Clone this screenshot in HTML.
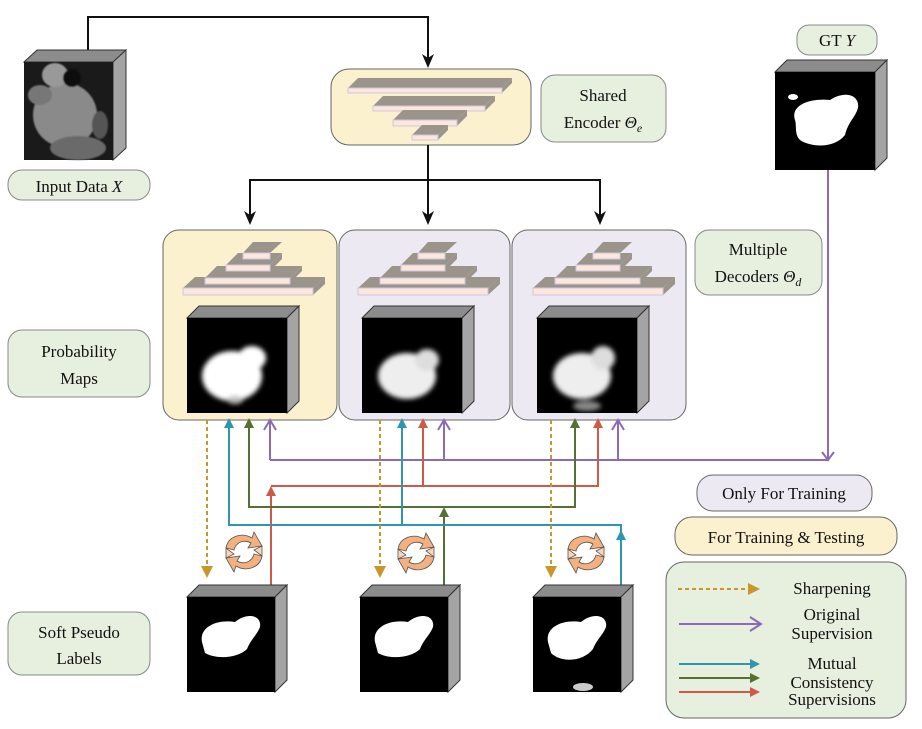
<!DOCTYPE html>
<html><head><meta charset="utf-8"><style>
html,body{margin:0;padding:0;background:#fff}
svg{display:block}
text{font-family:"Liberation Serif",serif;fill:#111}
</style></head><body>
<svg width="922" height="729" viewBox="0 0 922 729" xmlns="http://www.w3.org/2000/svg">
<defs>
<filter id="bl" x="-20%" y="-20%" width="140%" height="140%"><feGaussianBlur stdDeviation="2.5"/></filter>
<filter id="bl2"><feGaussianBlur stdDeviation="0.8"/></filter>
<g id="dec">
  <polygon points="183,288 195,277 325,277 313,288" fill="#9b948b"/><polygon points="313,288 325,277 325,284 313,295" fill="#9b948b"/>
  <rect x="183" y="288" width="130" height="7" fill="#fbe7dc" stroke="#cfc6e0" stroke-width="1"/>
  <polygon points="205,278 217,266 302,266 290,278" fill="#9b948b"/><polygon points="290,278 302,266 302,271 290,283" fill="#9b948b"/>
  <rect x="205" y="278" width="85" height="6" fill="#fbe7dc" stroke="#cfc6e0" stroke-width="1"/>
  <polygon points="226,265 238,253 282,253 270,265" fill="#9b948b"/><polygon points="270,265 282,253 282,259 270,271" fill="#9b948b"/>
  <rect x="226" y="265" width="44" height="6" fill="#fbe7dc" stroke="#cfc6e0" stroke-width="1"/>
  <polygon points="243,253 253,242 282,242 270,253" fill="#9b948b"/>
  <rect x="243" y="253" width="27" height="6" fill="#fbe7dc" stroke="#cfc6e0" stroke-width="1"/>
</g>
<g id="cubeP">
  <polygon points="0,0 12,-12 112,-12 100,0" fill="#8c8c8c" stroke="#333" stroke-width="1"/>
  <polygon points="100,0 112,-12 112,83 100,95" fill="#a4a4a4" stroke="#333" stroke-width="1"/>
  <rect x="0" y="0" width="100" height="95" fill="#000"/>
</g>
<g id="cubeS">
  <polygon points="0,0 12,-12 100,-12 88,0" fill="#8c8c8c" stroke="#333" stroke-width="1"/>
  <polygon points="88,0 100,-12 100,83 88,95" fill="#a4a4a4" stroke="#333" stroke-width="1"/>
  <rect x="0" y="0" width="88" height="95" fill="#000"/>
</g>
<g id="rot">
  <path d="M-18,-4 C-16,-16 -2,-20 8,-14 L10,-20 L18,-6 L4,-4 L7,-9 C0,-13 -8,-10 -10,-2 Z" fill="#f4b07e" stroke="#555" stroke-width="0.8"/>
  <path d="M18,4 C16,16 2,20 -8,14 L-10,20 L-18,6 L-4,4 L-7,9 C0,13 8,10 10,2 Z" fill="#f4b07e" stroke="#555" stroke-width="0.8"/>
  <path d="M-18,-4 L-18,6 L-10,2 Z" fill="#fbd5b5" stroke="#555" stroke-width="0.8"/>
  <path d="M18,4 L18,-6 L10,-2 Z" fill="#fbd5b5" stroke="#555" stroke-width="0.8"/>
</g>
<path id="ah" d="M-6,-14 L0,-10 L6,-14 L0,0 Z" fill="#111"/>
</defs>

<!-- top connector -->
<polyline points="88,58 88,17 428,17 428,60" fill="none" stroke="#111" stroke-width="2"/>
<use href="#ah" transform="translate(428,68)"/>

<!-- input cube -->
<polygon points="24,62 37,50 126,50 113,62" fill="#8c8c8c" stroke="#333"/>
<polygon points="113,62 126,50 126,148 113,160" fill="#a4a4a4" stroke="#333"/>
<rect x="24" y="62" width="89" height="98" fill="#1a1a1a"/>
<g filter="url(#bl2)">
<ellipse cx="65" cy="115" rx="32" ry="32" fill="#8a8a8a"/>
<ellipse cx="55" cy="75" rx="13" ry="12" fill="#999"/>
<ellipse cx="40" cy="95" rx="12" ry="10" fill="#777"/>
<ellipse cx="78" cy="148" rx="28" ry="12" fill="#6a6a6a"/>
<ellipse cx="100" cy="125" rx="8" ry="14" fill="#555"/>
<ellipse cx="72" cy="78" rx="9" ry="9" fill="#111"/>
</g>
<rect x="8" y="170" width="142" height="30" rx="14" fill="#e7efdf" stroke="#888"/>
<text x="79" y="192" font-size="17" text-anchor="middle">Input Data <tspan font-style="italic">X</tspan></text>

<!-- encoder -->
<rect x="331" y="69" width="200" height="76" rx="18" fill="#fcf1cf" stroke="#666"/>
<g>
<polygon points="348,88 358,78 512,78 502,88" fill="#9b948b"/><polygon points="502,88 512,78 512,83 502,93" fill="#9b948b"/>
<rect x="348" y="88" width="154" height="5" fill="#fbe7dc" stroke="#cfc6e0"/>
<polygon points="373,106 383,96 495,96 485,106" fill="#9b948b"/><polygon points="485,106 495,96 495,101 485,111" fill="#9b948b"/>
<rect x="373" y="106" width="112" height="5" fill="#fbe7dc" stroke="#cfc6e0"/>
<polygon points="393,120 403,110 467,110 457,120" fill="#9b948b"/><polygon points="457,120 467,110 467,116 457,126" fill="#9b948b"/>
<rect x="393" y="120" width="64" height="6" fill="#fbe7dc" stroke="#cfc6e0"/>
<polygon points="412,135 422,125 448,125 438,135" fill="#9b948b"/><polygon points="438,135 448,125 448,130 438,140" fill="#9b948b"/>
<rect x="412" y="135" width="26" height="5" fill="#fbe7dc" stroke="#cfc6e0"/>
</g>
<rect x="541" y="75" width="125" height="67" rx="14" fill="#e7efdf" stroke="#888"/>
<text x="603" y="101" font-size="17" text-anchor="middle">Shared</text>
<text x="603" y="128" font-size="17" text-anchor="middle">Encoder <tspan font-style="italic">Θ</tspan><tspan font-style="italic" font-size="12" dy="4">e</tspan></text>

<!-- encoder to decoders -->
<line x1="428" y1="145" x2="428" y2="215" stroke="#111" stroke-width="2"/>
<polyline points="250,215 250,180 600,180 600,215" fill="none" stroke="#111" stroke-width="2"/>
<use href="#ah" transform="translate(250,225)"/>
<use href="#ah" transform="translate(428,225)"/>
<use href="#ah" transform="translate(600,225)"/>

<!-- decoder boxes -->
<rect x="163" y="230" width="174" height="190" rx="16" fill="#fcf1cf" stroke="#666"/>
<rect x="339" y="230" width="171" height="190" rx="16" fill="#ecE9f3" stroke="#666"/>
<rect x="512" y="230" width="174" height="190" rx="16" fill="#ecE9f3" stroke="#666"/>
<use href="#dec"/>
<use href="#dec" transform="translate(175,0)"/>
<use href="#dec" transform="translate(350,0)"/>

<g transform="translate(187,318)"><use href="#cubeP"/>
<g filter="url(#bl)"><ellipse cx="45" cy="58" rx="30" ry="25" fill="#fff"/><ellipse cx="65" cy="40" rx="14" ry="12" fill="#fff"/><ellipse cx="48" cy="82" rx="8" ry="4" fill="#bbb"/></g></g>
<g transform="translate(362,318)"><use href="#cubeP"/>
<g filter="url(#bl)"><ellipse cx="45" cy="58" rx="29" ry="23" fill="#eee"/><ellipse cx="65" cy="42" rx="12" ry="11" fill="#ddd"/></g></g>
<g transform="translate(537,318)"><use href="#cubeP"/>
<g filter="url(#bl)"><ellipse cx="45" cy="58" rx="29" ry="23" fill="#eee"/><ellipse cx="66" cy="40" rx="12" ry="12" fill="#ddd"/><ellipse cx="50" cy="88" rx="14" ry="5" fill="#888"/></g></g>

<rect x="695" y="230" width="127" height="65" rx="14" fill="#e7efdf" stroke="#888"/>
<text x="758" y="255" font-size="17" text-anchor="middle">Multiple</text>
<text x="758" y="282" font-size="17" text-anchor="middle">Decoders <tspan font-style="italic">Θ</tspan><tspan font-style="italic" font-size="12" dy="4">d</tspan></text>

<rect x="8" y="330" width="142" height="67" rx="14" fill="#e7efdf" stroke="#888"/>
<text x="79" y="357" font-size="17" text-anchor="middle">Probability</text>
<text x="79" y="384" font-size="17" text-anchor="middle">Maps</text>

<!-- GT -->
<rect x="797" y="25" width="80" height="30" rx="12" fill="#e7efdf" stroke="#888"/>
<text x="837" y="46" font-size="17" text-anchor="middle">GT <tspan font-style="italic">Y</tspan></text>
<polygon points="775,72 787,60 887,60 875,72" fill="#8c8c8c" stroke="#333"/>
<polygon points="875,72 887,60 887,158 875,170" fill="#a4a4a4" stroke="#333"/>
<rect x="775" y="72" width="100" height="98" fill="#000"/>
<path d="M795,120 C790,105 810,98 830,100 C845,90 860,95 858,108 C855,118 848,122 845,135 C835,148 812,148 800,140 C794,134 797,126 795,120 Z" fill="#fff"/>
<ellipse cx="793" cy="97" rx="5" ry="3" fill="#fff"/>

<!-- purple -->
<g stroke="#8b6bb5" stroke-width="2" fill="none">
<polyline points="828,170 828,460 270,460"/>
<polyline points="822,452 828,460 834,452"/>
<line x1="270" y1="460" x2="270" y2="420"/><polyline points="264,430 270,420 276,430"/>
<line x1="444" y1="460" x2="444" y2="420"/><polyline points="438,430 444,420 450,430"/>
<line x1="618" y1="460" x2="618" y2="420"/><polyline points="612,430 618,420 624,430"/>
</g>
<!-- red -->
<g stroke="#d05a48" stroke-width="2" fill="none">
<polyline points="271,585 271,494"/><polyline points="271,486 598,486 598,426"/>
<line x1="423" y1="486" x2="423" y2="426"/>
</g>
<g fill="#d05a48"><polygon points="266,496 271,486 276,496"/><polygon points="418,428 423,418 428,428"/><polygon points="593,428 598,418 603,428"/></g>
<!-- green -->
<g stroke="#557032" stroke-width="2" fill="none">
<polyline points="249,426 249,507 575,507 575,426"/><line x1="444" y1="585" x2="444" y2="515"/>
</g>
<g fill="#557032"><polygon points="244,428 249,418 254,428"/><polygon points="570,428 575,418 580,428"/><polygon points="439,517 444,507 449,517"/></g>
<!-- teal -->
<g stroke="#2f95b0" stroke-width="2" fill="none">
<polyline points="229,426 229,525 621,525 621,585"/><line x1="402" y1="525" x2="402" y2="426"/>
</g>
<g fill="#2f95b0"><polygon points="224,428 229,418 234,428"/><polygon points="397,428 402,418 407,428"/><polygon points="616,540 621,530 626,540"/></g>
<!-- sharpening -->
<g stroke="#c9962a" stroke-width="2" stroke-dasharray="4,3" fill="none">
<line x1="207" y1="420" x2="207" y2="568"/><line x1="380" y1="420" x2="380" y2="568"/><line x1="551" y1="420" x2="551" y2="568"/>
</g>
<g fill="#c9962a"><polygon points="201,566 207,578 213,566"/><polygon points="374,566 380,578 386,566"/><polygon points="545,566 551,578 557,566"/></g>

<use href="#rot" transform="translate(244,552)"/>
<use href="#rot" transform="translate(416,553)"/>
<use href="#rot" transform="translate(586,553)"/>

<!-- pseudo labels -->
<g transform="translate(187,597)"><use href="#cubeS"/>
<path d="M15,45 C12,30 30,22 48,25 C60,15 75,18 73,30 C70,38 64,42 60,52 C50,62 28,62 18,56 Z" fill="#fff"/></g>
<g transform="translate(360,597)"><use href="#cubeS"/>
<path d="M15,45 C12,30 30,22 48,25 C60,15 75,18 73,30 C70,38 64,42 60,52 C50,62 28,62 18,56 Z" fill="#fff"/></g>
<g transform="translate(533,597)"><use href="#cubeS"/>
<path d="M15,45 C12,30 30,22 48,25 C60,15 75,18 73,30 C70,38 64,42 60,52 C50,65 28,66 18,56 Z" fill="#fff"/><ellipse cx="50" cy="90" rx="10" ry="4" fill="#ccc"/></g>

<rect x="8" y="612" width="142" height="63" rx="14" fill="#e7efdf" stroke="#888"/>
<text x="79" y="638" font-size="17" text-anchor="middle">Soft Pseudo</text>
<text x="79" y="664" font-size="17" text-anchor="middle">Labels</text>

<!-- legend -->
<rect x="697" y="475" width="175" height="36" rx="16" fill="#ecE9f3" stroke="#666"/>
<text x="784" y="499" font-size="17" text-anchor="middle">Only For Training</text>
<rect x="675" y="517" width="222" height="38" rx="17" fill="#fcf1cf" stroke="#666"/>
<text x="786" y="543" font-size="17" text-anchor="middle">For Training &amp; Testing</text>
<rect x="666" y="562" width="240" height="156" rx="18" fill="#e7efdf" stroke="#666"/>
<line x1="678" y1="589" x2="750" y2="589" stroke="#c9962a" stroke-width="2" stroke-dasharray="4,3"/>
<polygon points="748,583 760,589 748,595" fill="#c9962a"/>
<text x="832" y="594" font-size="17" text-anchor="middle">Sharpening</text>
<line x1="679" y1="624" x2="760" y2="624" stroke="#8b6bb5" stroke-width="2"/>
<polyline points="750,617 761,624 750,631" stroke="#8b6bb5" stroke-width="2" fill="none"/>
<text x="832" y="620" font-size="17" text-anchor="middle">Original</text>
<text x="832" y="639" font-size="17" text-anchor="middle">Supervision</text>
<line x1="679" y1="664" x2="752" y2="664" stroke="#2f95b0" stroke-width="2"/><polygon points="750,659 760,664 750,669" fill="#2f95b0"/>
<line x1="679" y1="678" x2="752" y2="678" stroke="#557032" stroke-width="2"/><polygon points="750,673 760,678 750,683" fill="#557032"/>
<line x1="679" y1="692" x2="752" y2="692" stroke="#d05a48" stroke-width="2"/><polygon points="750,687 760,692 750,697" fill="#d05a48"/>
<text x="832" y="669" font-size="17" text-anchor="middle">Mutual</text>
<text x="832" y="688" font-size="17" text-anchor="middle">Consistency</text>
<text x="832" y="705" font-size="17" text-anchor="middle">Supervisions</text>
</svg>
</body></html>
